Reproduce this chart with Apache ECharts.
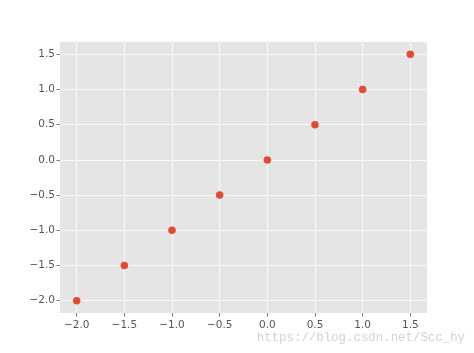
<!DOCTYPE html>
<html><head><meta charset="utf-8">
<script src="https://cdn.jsdelivr.net/npm/echarts@6/dist/echarts.min.js"></script>
<style>html,body{margin:0;padding:0;background:#fff}#c{width:474px;height:353px}</style>
</head><body><div id="c"></div>
<script>
const xValues = [-2.0, -1.5, -1.0, -0.5, 0.0, 0.5, 1.0, 1.5];
const yValues = [-2.0, -1.5, -1.0, -0.5, 0.0, 0.5, 1.0, 1.5];
const xTicks = [-2.0, -1.5, -1.0, -0.5, 0.0, 0.5, 1.0, 1.5];
const yTicks = [-2.0, -1.5, -1.0, -0.5, 0.0, 0.5, 1.0, 1.5];
const watermark = 'https://blog.csdn.net/Scc_hy';

const fmt = v => (v < 0 ? '\u2212' : '') + Math.abs(v).toFixed(1);
const chart = echarts.init(document.getElementById('c'));
const axisCommon = {
  type: 'value', min: -2.175, max: 1.675,
  axisLine: {show: false, onZero: false},
  axisTick: {show: true, length: 3.5, lineStyle: {color: '#555', width: 0.8}},
  axisLabel: {color: '#555', fontSize: 10.5, fontFamily: 'DejaVu Sans', formatter: fmt, margin: 5},
  splitLine: {show: true, lineStyle: {color: '#fff', width: 0.8}}
};
chart.setOption({
  animation: false,
  grid: {left: 60, right: 47, top: 42, bottom: 40, show: true, backgroundColor: '#E5E5E5', borderWidth: 0},
  xAxis: Object.assign({}, axisCommon, {
    position: 'bottom',
    axisTick: Object.assign({}, axisCommon.axisTick, {customValues: xTicks}),
    axisLabel: Object.assign({}, axisCommon.axisLabel, {customValues: xTicks, margin: 7})
  }),
  yAxis: Object.assign({}, axisCommon, {
    position: 'left',
    axisTick: Object.assign({}, axisCommon.axisTick, {customValues: yTicks}),
    axisLabel: Object.assign({}, axisCommon.axisLabel, {customValues: yTicks})
  }),
  series: [{
    type: 'scatter', symbolSize: 7.5,
    itemStyle: {color: '#E24A33', opacity: 1},
    data: xValues.map((x, i) => [x, yValues[i]])
  }],
  graphic: [{
    type: 'text', right: 9, top: 332,
    style: {text: watermark, fill: '#d2d2d2', font: '12.4px "Liberation Mono", monospace'}
  }]
});
</script></body></html>
